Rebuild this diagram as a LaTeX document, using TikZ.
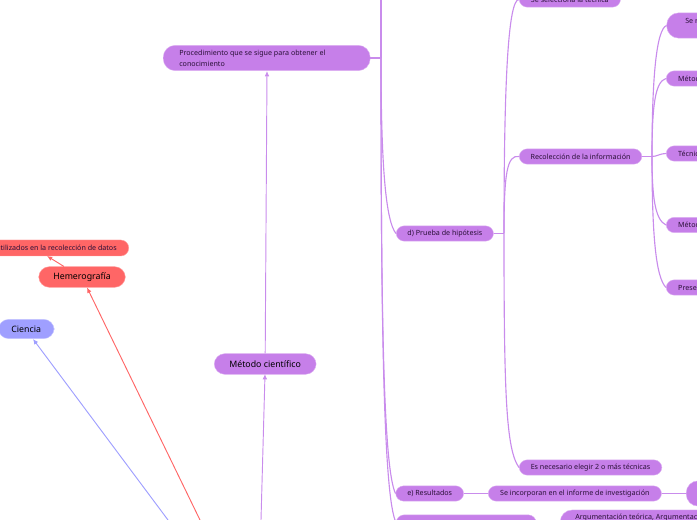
\documentclass[tikz,border=0pt]{standalone}
\usepackage{fontspec}
\setmainfont{Noto Sans}
\definecolor{moradobox}{HTML}{C67FE9}
\definecolor{moradoline}{HTML}{C98CEC}
\definecolor{rojobox}{HTML}{FF6666}
\definecolor{azulbox}{HTML}{9F9FFF}
\definecolor{tinta}{HTML}{2A1038}
\usetikzlibrary{arrows.meta}
\tikzset{
    smalltext/.style={inner sep=0pt,text=tinta,font=\fontsize{5.35}{8.25}\selectfont},
    topicbox/.style={smalltext,fill=moradobox,draw=moradobox!60,line width=0.3pt,rounded corners=6pt,anchor=west},
    bigbox/.style={topicbox,rounded corners=8pt,text=black,font=\fontsize{6.6}{9}\selectfont},
    link/.style={draw=moradoline,line width=0.85pt},
    flecha/.style={line width=0.7pt,-{Latex[length=4pt,width=3.5pt]}},
}
\begin{document}
\begin{tikzpicture}[x=0.75pt,y=0.75pt,yscale=-1,xscale=1]
    \useasboundingbox (0,0) rectangle (697,520);
    \clip (0,0) rectangle (697,520);

    % upper branch
    \node [topicbox,minimum width=155.25pt,minimum height=19pt,rounded corners=9pt] (proc) at (163,58) {};
    \node [smalltext,anchor=west,align=left] (proctext) at (179,58) {Procedimiento que se sigue para obtener el\\conocimiento};
    \node [bigbox,minimum width=76.5pt,minimum height=15.5pt] (metodo) at (214,364) {Método científico};

    % left side
    \node [bigbox,fill=rojobox,draw=rojobox!60,minimum width=65pt,minimum height=15.5pt] (hemero) at (38.5,277) {Hemerografía};
    \node [topicbox,fill=rojobox,draw=rojobox!60,anchor=east,minimum width=112pt,minimum height=12pt] (rojotop) at (129,248) {};
    \node [smalltext,anchor=east] (rojotext) at (117,248) {utilizados en la recolección de datos};
    \node [bigbox,fill=azulbox,draw=azulbox!60,minimum width=42pt,minimum height=14.5pt] (ciencia) at (-2,329) {Ciencia};

    % right side
    \node [topicbox,minimum width=73pt,minimum height=11.5pt] (prueba) at (396,233.5) {d) Prueba de hipótesis};
    \node [topicbox,minimum width=76pt,minimum height=11.5pt] (tecnica) at (519,-0.5) {Se selecciona la técnica};
    \node [topicbox,minimum width=92pt,minimum height=11.5pt] (recoleccion) at (519,156.5) {Recolección de la información};
    \node [topicbox,minimum width=107pt,minimum height=11.5pt] (necesario) at (519,467.5) {Es necesario elegir 2 o más técnicas};
    \node [topicbox,minimum width=51pt,minimum height=11.5pt] (resultados) at (395.5,493.5) {e) Resultados};
    \node [topicbox,minimum width=130pt,minimum height=11.5pt] (informe) at (488,493.5) {Se incorporan en el informe de investigación};
    \node [topicbox,minimum width=40pt,minimum height=19pt,rounded corners=9pt] (informefin) at (686,493.5) {};
    \node [topicbox,minimum width=105pt,minimum height=11.5pt] (conclusion) at (396,522.5) {};
    \node [topicbox,minimum width=140pt,minimum height=24pt,rounded corners=9pt] (argumenta) at (560,526) {};
    \node [smalltext,anchor=west] (argumentext) at (575,518) {Argumentación teórica, Argumentación};

    \node [topicbox,minimum width=60pt,minimum height=19pt,rounded corners=9pt] (serea) at (666.5,25.5) {};
    \node [smalltext,anchor=west] (sereatext) at (685,21) {Se realiza};
    \node [topicbox,minimum width=60pt,minimum height=11.5pt,text width=60pt,align=left] (metoda) at (666,78.5) {\hspace{9pt}Método};
    \node [topicbox,minimum width=60pt,minimum height=11.5pt,text width=60pt,align=left] (tecnicas) at (666,153.5) {\hspace{9pt}Técnica};
    \node [topicbox,minimum width=60pt,minimum height=11.5pt,text width=60pt,align=left] (metodb) at (666,225) {\hspace{9pt}Método};
    \node [topicbox,minimum width=60pt,minimum height=11.5pt,text width=60pt,align=left] (presen) at (666,287.5) {\hspace{9pt}Presenta};

    % hubs and free ends
    \coordinate (hubproc) at (381,58);
    \coordinate (hubtop) at (381,0);
    \coordinate (hubprueba) at (504,233.5);
    \coordinate (hubreco) at (652,156.5);
    \coordinate (basemetodo) at (261,520);
    \coordinate (baserojo) at (200,520);
    \coordinate (baseazul) at (168,520);
    \coordinate (tipproc) at (267,71);
    \coordinate (tipmetodo) at (265,374);
    \coordinate (tiphemero) at (87,287.5);
    \coordinate (tiprojo) at (47,256);
    \coordinate (baserojotop) at (64,266.5);
    \coordinate (tipciencia) at (33,339);

    % connectors
    \draw [link] (proc.east) -- (hubproc);
    \draw [link] (hubproc) -- (hubtop);
    \draw [link] (hubproc) .. controls +(0,110) and +(-10,-12) .. (prueba.west);
    \draw [link] (hubproc) .. controls +(0,260) and +(-12,-25) .. (resultados.west);
    \draw [link] (hubproc) .. controls +(0,280) and +(-12,-25) .. (conclusion.west);
    \draw [link] (prueba.east) -- (hubprueba);
    \draw [link] (hubprueba) .. controls +(0,-150) and +(-11,0) .. (tecnica.west);
    \draw [link] (hubprueba) .. controls +(0,-60) and +(-12,-2) .. (recoleccion.west);
    \draw [link] (hubprueba) .. controls +(0,160) and +(-13,-18) .. (necesario.west);
    \draw [link] (recoleccion.east) -- (hubreco);
    \draw [link] (hubreco) .. controls +(0,-80) and +(-10,4) .. (serea.west);
    \draw [link] (hubreco) .. controls +(0,-50) and +(-11,3) .. (metoda.west);
    \draw [link] (hubreco) .. controls +(5,0) and +(-6,0) .. (tecnicas.west);
    \draw [link] (hubreco) .. controls +(0,40) and +(-11,-5) .. (metodb.west);
    \draw [link] (hubreco) .. controls +(0,80) and +(-10,-10) .. (presen.west);
    \draw [link] (resultados.east) -- (informe.west);
    \draw [link] (informe.east) -- (informefin.west);

    \draw [flecha,moradoline] (metodo.north) -- (tipproc);
    \draw [flecha,moradoline] (basemetodo) -- (tipmetodo);
    \draw [flecha,rojobox] (baserojo) -- (tiphemero);
    \draw [flecha,rojobox] (baserojotop) -- (tiprojo);
    \draw [flecha,azulbox] (baseazul) -- (tipciencia);
\end{tikzpicture}
\end{document}
